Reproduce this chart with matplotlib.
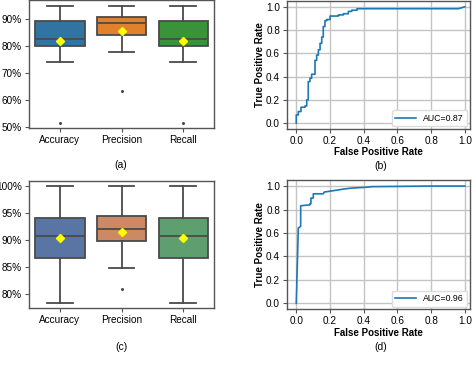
import numpy as np
import matplotlib.pyplot as plt
from matplotlib.ticker import PercentFormatter

plt.rcParams['font.family'] = ['Liberation Sans', 'DejaVu Sans']

metrics = ['Accuracy', 'Precision', 'Recall']

# panel (a) box summaries, percent
a_q1 = [80.0, 84.1, 80.0]
a_med = [82.7, 88.5, 82.7]
a_q3 = [89.1, 90.7, 89.1]
a_lo = [74.2, 77.8, 74.2]
a_hi = [94.6, 94.7, 94.6]
a_mean = [81.7, 85.7, 81.7]
a_fliers = [[51.7], [63.4], [51.7]]

# panel (c) box summaries, percent
c_q1 = [86.7, 89.9, 86.7]
c_med = [90.8, 92.0, 90.8]
c_q3 = [94.0, 94.5, 94.0]
c_lo = [78.4, 84.8, 78.4]
c_hi = [100.0, 100.0, 100.0]
c_mean = [90.3, 91.5, 90.3]
c_fliers = [[], [81.0], []]

a_colors = ['#3274a1', '#e1812c', '#3a923a']
c_colors = ['#5875a4', '#cc8963', '#5f9e6e']

# ROC curves
b_fpr = [0.0, 0.0, 0.012, 0.012, 0.028, 0.028, 0.052, 0.052, 0.062, 0.062,
         0.071, 0.071, 0.081, 0.081, 0.091, 0.091, 0.111, 0.111, 0.121, 0.121,
         0.131, 0.131, 0.141, 0.141, 0.151, 0.151, 0.160, 0.160, 0.170, 0.170,
         0.180, 0.180, 0.200, 0.200, 0.250, 0.250, 0.279, 0.279, 0.309, 0.309,
         0.329, 0.329, 0.360, 0.360, 0.962, 1.0]
b_tpr = [0.0, 0.071, 0.071, 0.10, 0.10, 0.137, 0.137, 0.148, 0.148, 0.20,
         0.20, 0.357, 0.357, 0.386, 0.386, 0.42, 0.42, 0.54, 0.54, 0.585,
         0.585, 0.63, 0.63, 0.686, 0.686, 0.74, 0.74, 0.83, 0.83, 0.88,
         0.88, 0.89, 0.89, 0.92, 0.92, 0.93, 0.93, 0.94, 0.94, 0.96,
         0.96, 0.97, 0.97, 0.983, 0.983, 1.0]
b_auc = 0.87

d_fpr = [0.0, 0.012, 0.026, 0.026, 0.081, 0.081, 0.087, 0.087, 0.101, 0.101,
         0.160, 0.166, 0.230, 0.279, 0.329, 0.408, 0.45, 0.8, 1.0]
d_tpr = [0.0, 0.642, 0.656, 0.832, 0.84, 0.85, 0.85, 0.898, 0.898, 0.934,
         0.934, 0.949, 0.963, 0.974, 0.983, 0.989, 0.995, 1.0, 1.0]
d_auc = 0.96

W, H = 474, 370
fig = plt.figure(figsize=(W / 100, H / 100), dpi=100)


def px_axes(l, t, r, b):
    return fig.add_axes([l / W, 1 - b / H, (r - l) / W, (b - t) / H])


spine_col = '#555555'
line_col = '#4a4a4a'


def box_panel(ax, q1, med, q3, lo, hi, mean, fliers, colors, ylim, step):
    stats = []
    for i in range(len(metrics)):
        stats.append(dict(q1=q1[i], med=med[i], q3=q3[i], whislo=lo[i],
                          whishi=hi[i], mean=mean[i], fliers=fliers[i]))
    bp = ax.bxp(stats, positions=range(len(metrics)), widths=0.8,
                showmeans=True, patch_artist=True,
                boxprops=dict(edgecolor=line_col, linewidth=1.3),
                medianprops=dict(color=line_col, linewidth=1.3),
                whiskerprops=dict(color=line_col, linewidth=1.3),
                capprops=dict(color=line_col, linewidth=1.3),
                capwidths=0.42,
                meanprops=dict(marker='D', markerfacecolor='#ffff00',
                               markeredgecolor='#ffff00', markersize=4.5),
                flierprops=dict(marker='o', markersize=1.2,
                                markerfacecolor=line_col,
                                markeredgecolor=line_col))
    for patch, col in zip(bp['boxes'], colors):
        patch.set_facecolor(col)
    ax.set_xlim(-0.5, 2.5)
    ax.set_ylim(*ylim)
    ax.set_xticks(range(len(metrics)))
    ax.set_xticklabels(metrics)
    ax.set_yticks(np.arange(np.ceil(ylim[0] / step) * step, ylim[1], step))
    ax.yaxis.set_major_formatter(PercentFormatter(decimals=0))
    ax.tick_params(labelsize=7.2, length=3, color=spine_col, pad=2)
    for s in ax.spines.values():
        s.set_color(spine_col)
        s.set_linewidth(1.0)


def roc_panel(ax, fpr, tpr, auc):
    ax.plot(fpr, tpr, color='#1f77b4', lw=1.2, label='AUC=%.2f' % auc)
    ax.set_xlim(-0.055, 1.03)
    ax.set_ylim(-0.05, 1.05)
    ax.set_xticks(np.linspace(0, 1, 6))
    ax.set_yticks(np.linspace(0, 1, 6))
    ax.grid(True, color='#c4c4c4', lw=1.0)
    ax.set_axisbelow(True)
    ax.tick_params(labelsize=7.2, length=3, color=spine_col, pad=2)
    ax.set_xlabel('False Positive Rate', fontsize=7, fontweight='bold',
                  labelpad=1)
    ax.set_ylabel('True Positive Rate', fontsize=7, fontweight='bold',
                  labelpad=1)
    for s in ax.spines.values():
        s.set_color(spine_col)
        s.set_linewidth(1.0)
    ax.legend(loc='lower right', fontsize=6.3, handlelength=2.4,
              borderpad=0.4, framealpha=1, edgecolor='#dddddd',
              fancybox=True, borderaxespad=0.3)


ax_a = px_axes(29, 0, 214, 128.3)
box_panel(ax_a, a_q1, a_med, a_q3, a_lo, a_hi, a_mean, a_fliers, a_colors,
          (49.6, 97.0), 10)

ax_c = px_axes(29, 181.3, 214, 308)
box_panel(ax_c, c_q1, c_med, c_q3, c_lo, c_hi, c_mean, c_fliers, c_colors,
          (77.5, 100.8), 5)

ax_b = px_axes(287, 0.9, 470, 129)
roc_panel(ax_b, b_fpr, b_tpr, b_auc)

ax_d = px_axes(287, 180.2, 470, 309.2)
roc_panel(ax_d, d_fpr, d_tpr, d_auc)

for lab, x, y in [('(a)', 121, 165), ('(b)', 381, 166),
                  ('(c)', 121, 347), ('(d)', 381, 347)]:
    fig.text(x / W, 1 - y / H, lab, fontsize=7.5, ha='center', va='center')

fig.savefig('out.png', dpi=100)
